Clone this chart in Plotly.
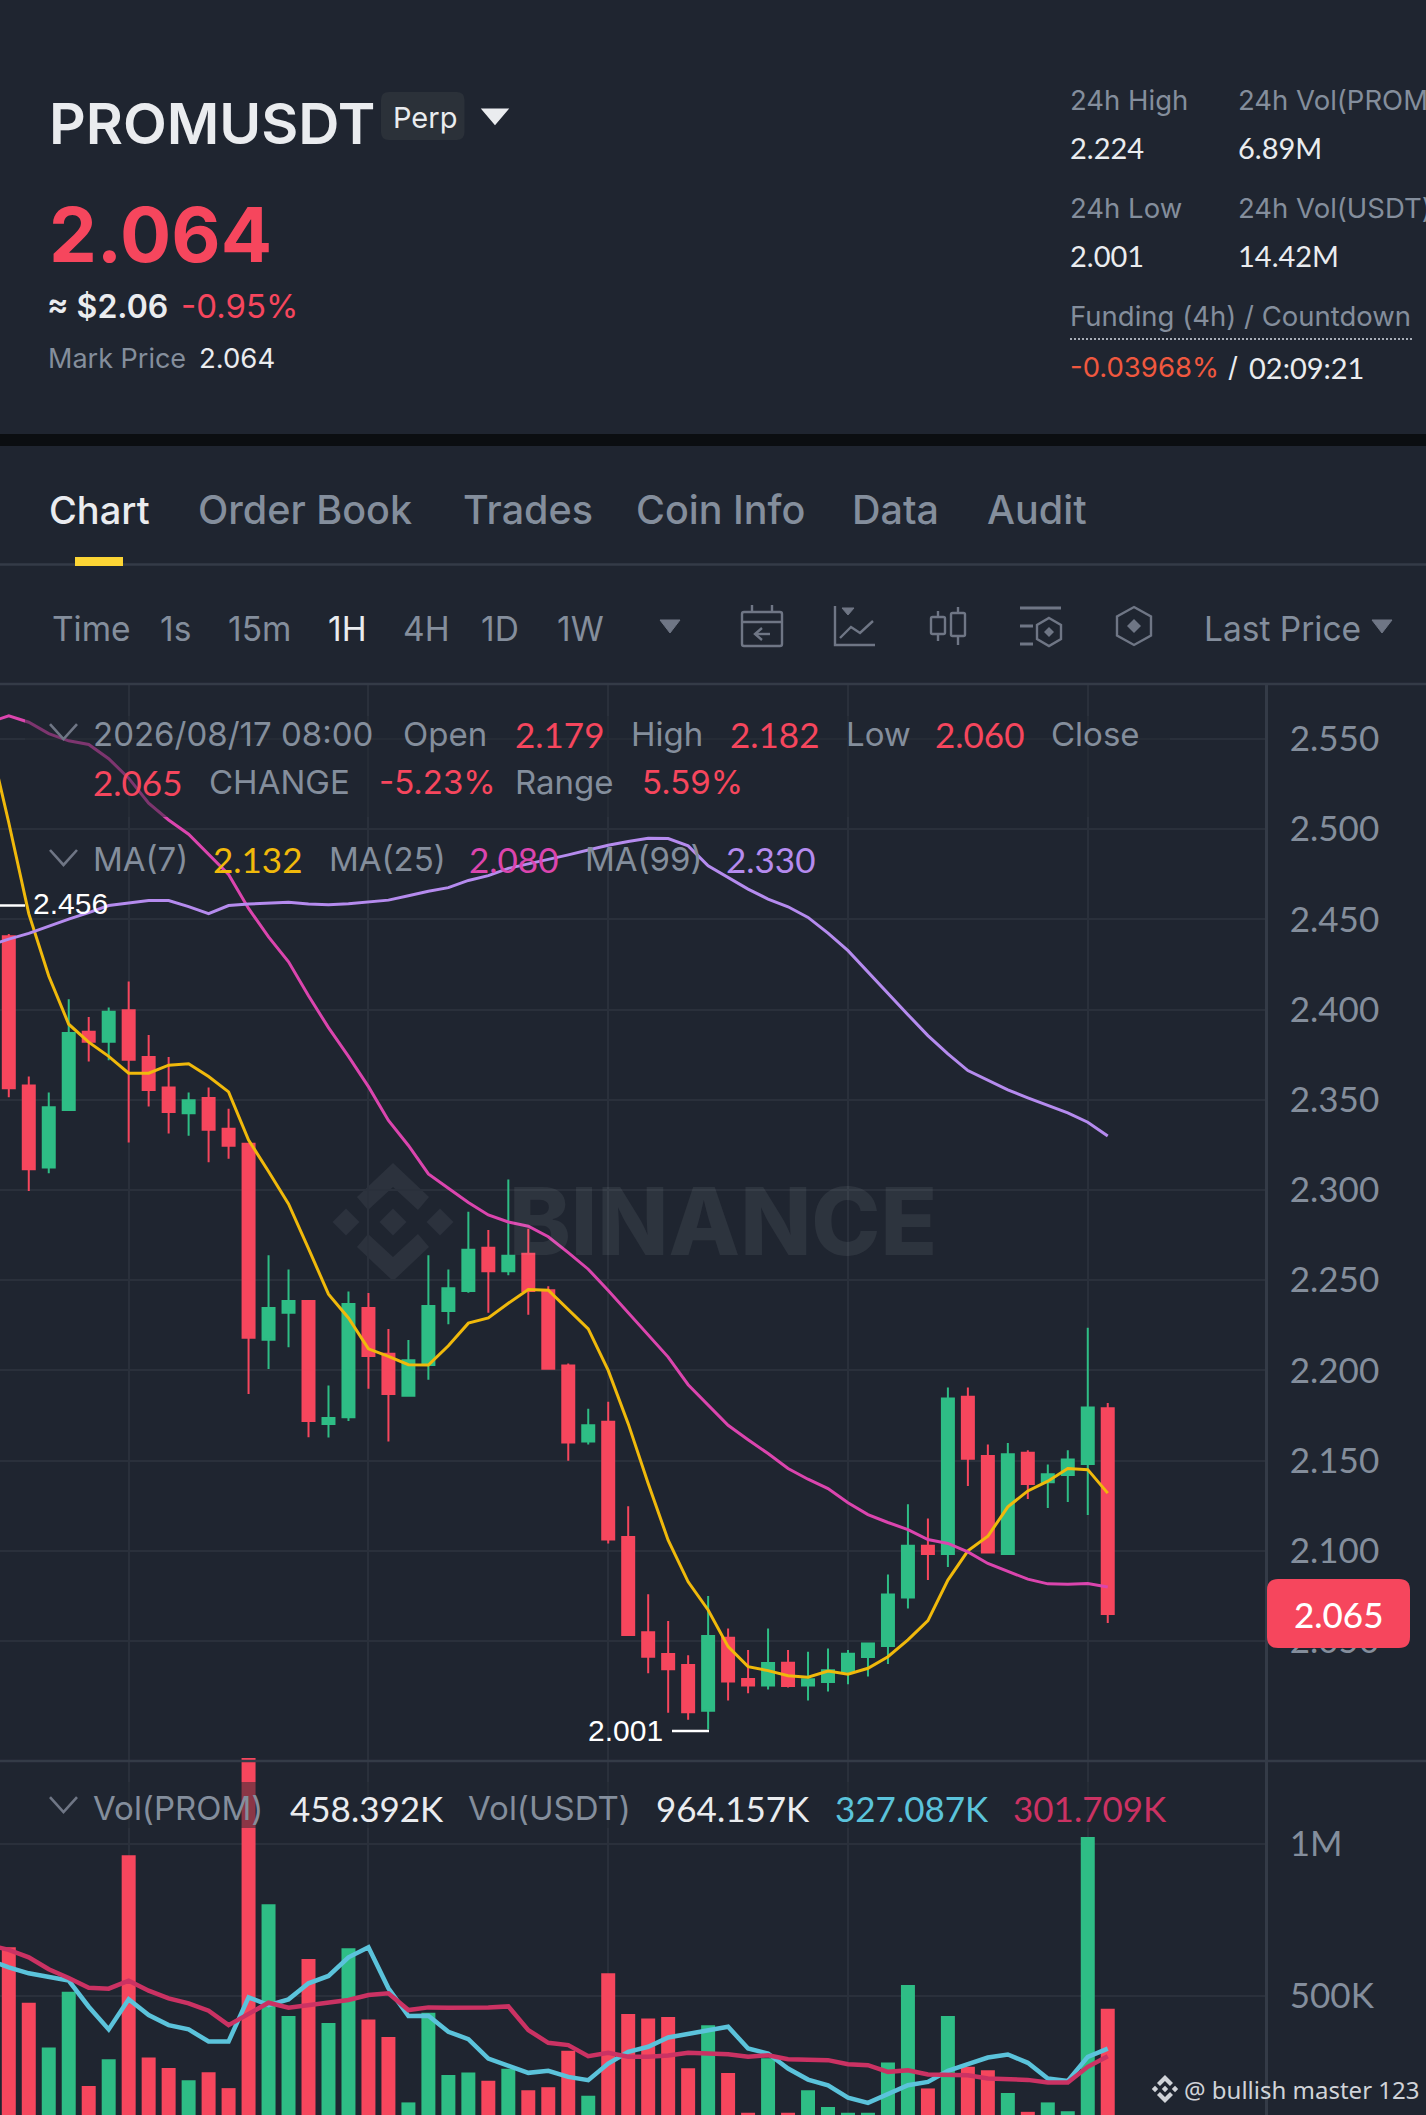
import plotly.graph_objects as go

W, H = 1426, 2115
AXIS_X = 1265

BG = "#1F2530"
GRID = "#2A303B"
SEP = "#343B47"
GRAY = "#848E9C"
ICON = "#6F7685"
WHITE = "#EAECEF"
RED = "#F6465D"
GREEN = "#2EBD85"
MA7_COLOR = "#F0B90B"
MA25_COLOR = "#DB45AE"
MA99_COLOR = "#B58BEE"
VOL_MA1_COLOR = "#5BC3DB"
VOL_MA2_COLOR = "#CB3263"
FONT = "Inter"
NUM_FONT = "Lato"  # even-width digits, like the app

# hourly candles
opens = [2.4407, 2.3579, 2.3125, 2.3443, 2.3878, 2.3822, 2.3996, 2.3737, 2.3569, 2.3425,
         2.351, 2.334, 2.3257, 2.217, 2.232, 2.2385, 2.1703, 2.174, 2.2346, 2.2093,
         2.1859, 2.203, 2.233, 2.244, 2.268, 2.255, 2.2647, 2.2445, 2.2028, 2.1606,
         2.1716, 2.1077, 2.0548, 2.0428, 2.0367, 2.0114, 2.0518, 2.029, 2.0253, 2.038,
         2.0253, 2.0273, 2.033, 2.0411, 2.0472, 2.0742, 2.1028, 2.0982, 2.1854, 2.1526,
         2.0982, 2.1544, 2.138, 2.1421, 2.1482, 2.179]
highs = [2.4419, 2.3629, 2.354, 2.4058, 2.3959, 2.4012, 2.4156, 2.386, 2.3737, 2.354,
         2.3569, 2.3451, 2.3262, 2.2638, 2.2559, 2.2385, 2.1916, 2.2438, 2.2429, 2.223,
         2.2168, 2.2638, 2.2559, 2.2879, 2.2778, 2.3059, 2.2785, 2.2467, 2.2039, 2.1788,
         2.1827, 2.1247, 2.076, 2.0611, 2.0421, 2.0749, 2.057, 2.045, 2.057, 2.045,
         2.0441, 2.0459, 2.045, 2.0487, 2.0869, 2.1258, 2.1179, 2.1906, 2.1906, 2.1589,
         2.1598, 2.1557, 2.1478, 2.1557, 2.2236, 2.182]
lows = [2.3514, 2.2994, 2.3093, 2.3443, 2.3712, 2.372, 2.3263, 2.3463, 2.3313, 2.3301,
        2.3154, 2.3174, 2.187, 2.2008, 2.2129, 2.163, 2.1628, 2.172, 2.1898, 2.1606,
        2.1859, 2.1949, 2.2256, 2.243, 2.232, 2.2528, 2.2309, 2.201, 2.1499, 2.1589,
        2.1041, 2.0531, 2.0321, 2.0103, 2.0063, 2.001, 2.017, 2.021, 2.0231, 2.0242,
        2.017, 2.022, 2.026, 2.0303, 2.0373, 2.0681, 2.0838, 2.0911, 2.136, 2.0991,
        2.0982, 2.1288, 2.1238, 2.1271, 2.1199, 2.060]
closes = [2.3564, 2.3115, 2.3459, 2.387, 2.3822, 2.3988, 2.3722, 2.3554, 2.3433, 2.3498,
          2.3334, 2.3245, 2.2181, 2.2346, 2.2385, 2.172, 2.1736, 2.2368, 2.208, 2.187,
          2.2056, 2.2357, 2.2456, 2.2669, 2.255, 2.2636, 2.244, 2.201, 2.16, 2.1696,
          2.1063, 2.0533, 2.0413, 2.0343, 2.0105, 2.0528, 2.0275, 2.0253, 2.0378, 2.0251,
          2.0288, 2.0338, 2.043, 2.0487, 2.0758, 2.1028, 2.0982, 2.1845, 2.1511, 2.0991,
          2.1535, 2.1371, 2.1424, 2.1506, 2.1795, 2.065]

# moving averages start one candle left of the visible window
ma7 = [2.5512, 2.5036, 2.4532, 2.4186, 2.3919, 2.382, 2.3741, 2.3648, 2.3648, 2.3692,
       2.37, 2.3629, 2.3544, 2.3277, 2.3103, 2.2923, 2.2675, 2.2423, 2.2291, 2.212,
       2.2078, 2.2032, 2.203, 2.2137, 2.2262, 2.2291, 2.2372, 2.2449, 2.2445, 2.2339,
       2.223, 2.20, 2.1705, 2.1373, 2.1059, 2.0828, 2.0672, 2.0469, 2.0358, 2.0336,
       2.0308, 2.0299, 2.0334, 2.0316, 2.0349, 2.0413, 2.0506, 2.0613, 2.0838, 2.10,
       2.1081, 2.1244, 2.1332, 2.1386, 2.1456, 2.145, 2.132]
ma25 = [2.5593, 2.5628, 2.5593, 2.553, 2.549, 2.547, 2.5391, 2.5283, 2.5144, 2.5051,
        2.4972, 2.4858, 2.4749, 2.4561, 2.4403, 2.4265, 2.4077, 2.39, 2.3741, 2.3573,
        2.3386, 2.3247, 2.3089, 2.301, 2.2931, 2.2862, 2.2823, 2.2799, 2.2741, 2.2653,
        2.2561, 2.2443, 2.2319, 2.2197, 2.2074, 2.1921, 2.1806, 2.1696, 2.1616, 2.1539,
        2.1456, 2.1397, 2.1345, 2.1266, 2.1201, 2.1157, 2.1118, 2.1063, 2.1041, 2.0994,
        2.093, 2.0887, 2.0843, 2.0817, 2.0815, 2.0819, 2.080]
ma99 = [2.4354, 2.4391, 2.4423, 2.4463, 2.4502, 2.4538, 2.4577, 2.4591, 2.4605, 2.4605,
        2.4571, 2.4532, 2.4577, 2.4585, 2.4591, 2.4595, 2.4585, 2.4581, 2.4587, 2.4597,
        2.4607, 2.4631, 2.4656, 2.4676, 2.4716, 2.4743, 2.4783, 2.4808, 2.4832, 2.4858,
        2.4885, 2.4911, 2.4932, 2.495, 2.4948, 2.4908, 2.4797, 2.4732, 2.4668, 2.4613,
        2.457, 2.4511, 2.4424, 2.4327, 2.4207, 2.4087, 2.3972, 2.3856, 2.3755, 2.3662,
        2.3607, 2.3555, 2.3511, 2.3469, 2.3428, 2.3376, 2.330]

volume = [660, 478, 331, 514, 204, 292, 963, 298, 263, 223, 249, 197, 1290, 802, 434, 622,
          411, 657, 423, 365, 150, 445, 240, 248, 221, 261, 190, 200, 320, 172, 575, 441,
          426, 431, 262, 404, 247, 116, 295, 116, 190, 135, 116, 116, 281, 536, 196, 434,
          267, 256, 181, 119, 150, 121, 1023, 458.392]
vol_ma1 = [618.6, 594.5, 574.7, 561.5, 550.5, 464.8, 390.1, 489, 437.3, 404.3, 390.1, 350.5,
           350.5, 495.6, 470.3, 489, 541.7, 565.9, 627.4, 660.4, 525.2, 434, 435.1, 382.4,
           358.2, 294.4, 272.5, 247.2, 253.8, 234, 223, 278, 316.4, 333, 363.7, 374.7,
           387.9, 398.8, 327.4, 311, 261.5, 225.2, 206.5, 165.9, 148.3, 179, 206.5, 217.5,
           253.8, 275.8, 297.7, 307.6, 280.2, 228.5, 220.8, 300, 327.087]
vol_ma2 = [668.1, 651.6, 627.4, 587.9, 559.3, 527.4, 524.1, 550.5, 517.5, 492.3, 475.8, 451.6,
           404.3, 442.8, 478, 461.5, 470.3, 476.9, 486.8, 503.3, 508.7, 453.8, 462.6, 461.5,
           461.5, 462.6, 465.9, 387.9, 346.1, 338.4, 302.1, 313.1, 300, 300, 304.3, 313.1,
           311, 308.7, 300, 305.4, 292.2, 292.2, 289, 275.8, 272.5, 250.5, 256, 241.7,
           239.5, 239.5, 228.5, 225.2, 224.1, 215.3, 215.3, 267, 301.709]

price_ticks = [2.05, 2.10, 2.15, 2.20, 2.25, 2.30, 2.35, 2.40, 2.45, 2.50, 2.55]
vol_ticks = [500000, 1000000]
vol_tick_labels = ["500K", "1M"]

candle_x = list(range(len(closes)))
ma_x = list(range(-1, len(closes)))
vol_colors = [GREEN if c >= o else RED for o, c in zip(opens, closes)]


def px(x):
    return x / W


def py(y):
    return 1 - y / H


def pts(points, close=False):
    s = "M " + " L ".join(f"{px(x):.5f},{py(y):.5f}" for x, y in points)
    return s + " Z" if close else s


def round_rect(x0, y0, x1, y1, r):
    c = lambda x, y: f"{px(x):.5f},{py(y):.5f}"
    return (f"M {c(x0 + r, y0)} L {c(x1 - r, y0)} Q {c(x1, y0)} {c(x1, y0 + r)} "
            f"L {c(x1, y1 - r)} Q {c(x1, y1)} {c(x1 - r, y1)} L {c(x0 + r, y1)} "
            f"Q {c(x0, y1)} {c(x0, y1 - r)} L {c(x0, y0 + r)} Q {c(x0, y0)} {c(x0 + r, y0)} Z")


shapes = []
annotations = []


def text(x, y, s, size=32, color=GRAY, weight=400, anchor="left", family=FONT):
    annotations.append(dict(xref="paper", yref="paper", x=px(x - 2 if anchor == "left" else x), y=py(y), text=s,
                            showarrow=False, xanchor=anchor, yanchor="middle", borderpad=0,
                            font=dict(family=family, size=size, color=color, weight=weight)))


def num(x, y, s, size=35, color=WHITE, weight=400, anchor="left"):
    text(x, y, s, size=size, color=color, weight=weight, anchor=anchor, family=NUM_FONT)


def line(x0, y0, x1, y1, color=SEP, width=2.5, dash=None):
    shapes.append(dict(type="line", xref="paper", yref="paper", x0=px(x0), y0=py(y0), x1=px(x1), y1=py(y1),
                       line=dict(color=color, width=width, dash=dash), layer="above"))


def poly(points, close=True, fill=None, color=ICON, width=2.4, layer="above"):
    shapes.append(dict(type="path", xref="paper", yref="paper", path=pts(points, close),
                       fillcolor=fill if fill else "rgba(0,0,0,0)",
                       line=dict(color=color, width=width), layer=layer))


def rrect(x0, y0, x1, y1, r, fill=None, color=None, width=0):
    shapes.append(dict(type="path", xref="paper", yref="paper", path=round_rect(x0, y0, x1, y1, r),
                       fillcolor=fill if fill else "rgba(0,0,0,0)",
                       line=dict(color=color if color else "rgba(0,0,0,0)", width=width), layer="above"))


def diamond(cx, cy, r, fill=ICON, layer="above"):
    poly([(cx, cy - r), (cx + r, cy), (cx, cy + r), (cx - r, cy)], fill=fill, color=fill, width=0, layer=layer)


def hexagon(cx, cy, rx, ry):
    poly([(cx, cy - ry), (cx + rx, cy - ry * 0.5), (cx + rx, cy + ry * 0.5),
          (cx, cy + ry), (cx - rx, cy + ry * 0.5), (cx - rx, cy - ry * 0.5)])


def chevron(y):
    poly([(50, y), (63.5, y + 15), (77, y)], close=False, color="#6F7685", width=2.6)


fig = go.Figure()

# watermark sits under the candles
logo_x, logo_y = 393, 1222
WM = "#2C323D"
for cx, cy in [(-47, 0), (47, 0), (0, 0)]:
    diamond(logo_x + cx, logo_y + cy, 13.5, fill=WM, layer="below")
for sgn in (1, -1):
    poly([(logo_x, logo_y - sgn * 59), (logo_x + 36, logo_y - sgn * 25), (logo_x + 25, logo_y - sgn * 12),
          (logo_x, logo_y - sgn * 35), (logo_x - 25, logo_y - sgn * 12), (logo_x - 36, logo_y - sgn * 25)],
         fill=WM, color=WM, width=0, layer="below")

fig.add_trace(go.Candlestick(x=candle_x, open=opens, high=highs, low=lows, close=closes,
                             increasing=dict(line=dict(color=GREEN, width=2), fillcolor=GREEN),
                             decreasing=dict(line=dict(color=RED, width=2), fillcolor=RED),
                             whiskerwidth=0, xaxis="x", yaxis="y", showlegend=False))
for values, color in [(ma7, MA7_COLOR), (ma25, MA25_COLOR), (ma99, MA99_COLOR)]:
    fig.add_trace(go.Scatter(x=ma_x, y=values, mode="lines", line=dict(color=color, width=3),
                             xaxis="x", yaxis="y", showlegend=False))

fig.add_trace(go.Bar(x=candle_x, y=[v * 1000 for v in volume], marker=dict(color=vol_colors, line=dict(width=0)),
                     xaxis="x2", yaxis="y2", showlegend=False))
for values, color in [(vol_ma1, VOL_MA1_COLOR), (vol_ma2, VOL_MA2_COLOR)]:
    fig.add_trace(go.Scatter(x=ma_x, y=[v * 1000 for v in values], mode="lines", line=dict(color=color, width=4.5),
                             xaxis="x2", yaxis="y2", showlegend=False))

# header
text(50, 124, "PROMUSDT", size=57, color=WHITE, weight=600)
rrect(381, 92, 464.5, 140, 8, fill="#2B3139")
text(394, 118, "Perp", size=29, color=WHITE)
poly([(484, 110), (506, 110), (495, 123)], fill=WHITE, color=WHITE, width=3)
text(50, 234, "2.064", size=76, color=RED, weight=700)
text(48, 306, "≈ $2.06", size=32, color=WHITE, weight=600)
text(182, 306, "-0.95%", size=33, color=RED)
text(49, 358, "Mark Price", size=27, color=GRAY)
text(200, 358, "2.064", size=27.5, color=WHITE)

text(1071, 100, "24h High", size=27.5, color=GRAY)
text(1239, 100, "24h Vol(PROM)", size=27.5, color=GRAY)
num(1071, 148, "2.224", size=29)
num(1239, 148, "6.89M", size=29)
text(1071, 208, "24h Low", size=27.5, color=GRAY)
text(1239, 208, "24h Vol(USDT)", size=27.5, color=GRAY)
num(1071, 256, "2.001", size=29)
num(1239, 256, "14.42M", size=29)
text(1071, 316, "Funding (4h) / Countdown", size=27.5, color=GRAY)
line(1070, 339, 1413, 339, color="#A8AEB8", width=2, dash="2px,2px")
text(1071, 367, "-0.03968%", size=27.5, color="#F0583F")
text(1229, 367, "/", size=27.5, color=WHITE)
num(1250, 367, "02:09:21", size=29)

# black band, tabs
shapes.append(dict(type="rect", xref="paper", yref="paper", x0=0, x1=1, y0=py(446), y1=py(434),
                   fillcolor="#0B0E11", line=dict(width=0), layer="above"))
text(50, 510, "Chart", size=38, color=WHITE, weight=500)
for x, label in [(199, "Order Book"), (464, "Trades"), (637, "Coin Info"), (853, "Data"), (988, "Audit")]:
    text(x, 510, label, size=39.5, color=GRAY, weight=500)
line(0, 564.5, W, 564.5)
shapes.append(dict(type="rect", xref="paper", yref="paper", x0=px(75), x1=px(123), y0=py(566), y1=py(557),
                   fillcolor="#FCD535", line=dict(width=0), layer="above"))

# toolbar
for x, label, color in [(53, "Time", GRAY), (161, "1s", GRAY), (229, "15m", GRAY), (329, "1H", WHITE),
                        (404, "4H", GRAY), (482, "1D", GRAY), (558, "1W", GRAY), (1205, "Last Price", GRAY)]:
    text(x, 629, label, size=33.5, color=color)
poly([(660, 620), (680, 620), (670, 633)], fill=ICON, color=ICON, width=1)
poly([(1372, 620), (1392, 620), (1382, 633)], fill=ICON, color=ICON, width=1)

# calendar icon
rrect(742, 612, 782, 646, 2, color=ICON, width=2.4)
line(742, 622, 782, 622, color=ICON, width=2.4)
line(752, 605, 752, 612, color=ICON, width=2.4)
line(772, 605, 772, 612, color=ICON, width=2.4)
line(755, 634, 770, 634, color=ICON, width=2.4)
poly([(762, 628), (755, 634), (762, 640)], close=False)
# line chart icon
poly([(835, 606), (835, 645), (875, 645)], close=False)
poly([(842, 608), (854, 608), (848, 615)], fill=ICON, color=ICON, width=1)
poly([(840, 638), (851, 627), (860, 633), (873, 621)], close=False)
# candles icon
rrect(931, 617, 945, 634, 1.5, color=ICON, width=2.4)
rrect(951, 613, 965, 636, 1.5, color=ICON, width=2.4)
line(938, 611, 938, 617, color=ICON, width=2.4)
line(938, 634, 938, 641, color=ICON, width=2.4)
line(958, 607, 958, 613, color=ICON, width=2.4)
line(958, 636, 958, 645, color=ICON, width=2.4)
# depth icon
line(1020, 608, 1061, 608, color=ICON, width=3)
line(1020, 626, 1033, 626, color=ICON, width=3)
line(1020, 644, 1033, 644, color=ICON, width=3)
hexagon(1049, 632, 12, 14)
diamond(1049, 632, 5)
# last hexagon
hexagon(1134, 626, 17, 19)
diamond(1134, 626, 7)

# panes
line(0, 684, W, 684)
line(0, 1761, W, 1761)

# dim the chart behind the legend rows
for y0, y1 in [(716, 817), (1782, 1828)]:
    shapes.append(dict(type="rect", xref="paper", yref="paper", x0=px(25), x1=px(1170), y0=py(y1), y1=py(y0),
                       fillcolor="rgba(31,37,48,0.5)", line=dict(width=0), layer="above"))

LEG = 33
chevron(724)
text(94, 734, "2026/08/17 08:00", size=LEG)
for x, label in [(404, "Open"), (632, "High"), (847, "Low"), (1052, "Close")]:
    text(x, 734, label, size=LEG)
for x, label in [(516, "2.179"), (731, "2.182"), (936, "2.060")]:
    num(x, 734, label, color=RED)
num(94, 782, "2.065", color=RED)
text(210, 782, "CHANGE", size=LEG)
text(380, 782, "-5.23%", size=LEG, color=RED)
text(516, 782, "Range", size=LEG)
text(643, 782, "5.59%", size=LEG, color=RED)
chevron(850)
for x, label in [(94, "MA(7)"), (330, "MA(25)"), (586, "MA(99)")]:
    text(x, 859, label, size=LEG)
for x, label, color in [(214, "2.132", MA7_COLOR), (470, "2.080", MA25_COLOR), (727, "2.330", MA99_COLOR)]:
    num(x, 859, label, color=color)
chevron(1797)
text(94, 1808, "Vol(PROM)", size=LEG)
text(469, 1808, "Vol(USDT)", size=LEG)
for x, label, color in [(291, "458.392K", WHITE), (657, "964.157K", WHITE), (836, "327.087K", VOL_MA1_COLOR),
                        (1014, "301.709K", VOL_MA2_COLOR)]:
    num(x, 1808, label, color=color)

# high / low marks drawn by the exchange chart
text(34, 903, "2.456", size=30, color="#FFFFFF", family="Liberation Sans")
line(0, 905.5, 25, 905.5, color="#FFFFFF", width=2.5)
text(589, 1730, "2.001", size=30, color="#FFFFFF", family="Liberation Sans")
line(672, 1731, 709, 1731, color="#FFFFFF", width=2.5)

# watermark word, last price tag, credit
text(510, 1221, "BINANCE", size=93, color="rgba(234,236,239,0.075)", weight=800)
rrect(1267, 1579, 1410, 1648, 11, fill=RED)
num(1338, 1614, "2.065", size=35, color="#FFFFFF", weight=500, anchor="center")

for dx, dy in [(-10, 0), (10, 0), (0, 0)]:
    diamond(1165 + dx, 2089 + dy, 3.2, fill="#D0D3D8")
for sgn in (1, -1):
    poly([(1165, 2089 - sgn * 14), (1173, 2089 - sgn * 6), (1170, 2089 - sgn * 3), (1165, 2089 - sgn * 8),
          (1160, 2089 - sgn * 3), (1157, 2089 - sgn * 6)], fill="#D0D3D8", color="#D0D3D8", width=0)
text(1185, 2089, "@ bullish master 123", size=24, color="#D0D3D8", family="Noto Sans")

axis_font = dict(family=NUM_FONT, size=35, color=GRAY)
fig.update_layout(
    width=W, height=H, margin=dict(l=0, r=0, t=0, b=0, pad=0), autosize=False,
    paper_bgcolor=BG, plot_bgcolor=BG, showlegend=False, boxgap=0.4, boxgroupgap=0, bargap=0.3, hovermode=False,
    shapes=shapes, annotations=annotations,
    xaxis=dict(domain=[0, AXIS_X / W], range=[-0.44, 62.87], type="linear", rangeslider=dict(visible=False),
               tick0=6, dtick=12, showgrid=True, gridcolor=GRID, gridwidth=2, showticklabels=False,
               zeroline=False, anchor="y", ticks=""),
    yaxis=dict(domain=[py(1761), py(684)], range=[1.9835, 2.5805], side="right", anchor="x",
               tickvals=price_ticks, tickformat=".3f", showgrid=True, gridcolor=GRID, gridwidth=2,
               showline=True, linecolor=SEP, linewidth=2.5, zeroline=False,
               ticks="outside", ticklen=15, tickcolor="rgba(0,0,0,0)", tickfont=axis_font),
    xaxis2=dict(domain=[0, AXIS_X / W], range=[-0.44, 62.87], type="linear",
                tick0=6, dtick=12, showgrid=True, gridcolor=GRID, gridwidth=2, showticklabels=False,
                zeroline=False, anchor="y2", ticks=""),
    yaxis2=dict(domain=[0, py(1758)], range=[108600, 1282900], side="right", anchor="x2",
                tickvals=vol_ticks, ticktext=vol_tick_labels, showgrid=True, gridcolor=GRID, gridwidth=2,
                showline=True, linecolor=SEP, linewidth=2.5, zeroline=False,
                ticks="outside", ticklen=15, tickcolor="rgba(0,0,0,0)", tickfont=axis_font),
)

fig.write_html("out.html", config=dict(displayModeBar=False),
               post_script="document.body.style.margin='0';document.body.style.overflow='hidden';"
                           f"document.body.style.background='{BG}';")
